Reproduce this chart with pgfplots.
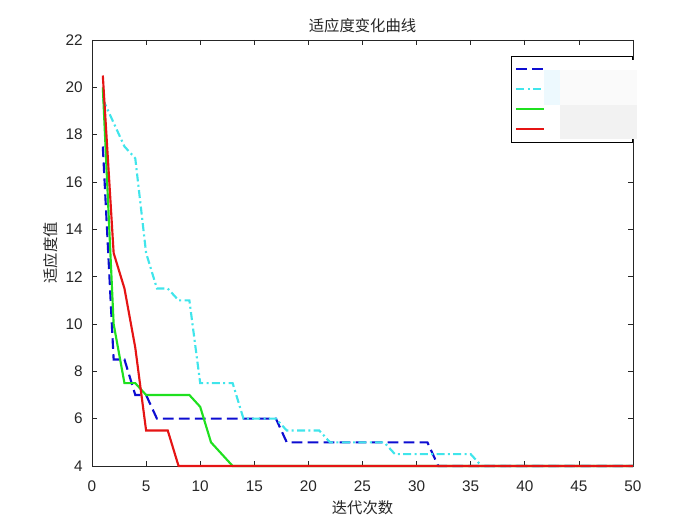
\documentclass[border=0pt]{standalone}
\usepackage{pgfplots}
\pgfplotsset{compat=1.18}
\usepackage{fontspec}
\setmainfont{Liberation Sans}
\newfontfamily\cjk{Noto Sans CJK SC}
\definecolor{mblue}{rgb}{0.05,0.05,0.82}
\definecolor{mcyan}{rgb}{0.25,0.9,0.92}
\definecolor{mgreen}{rgb}{0.12,0.88,0.12}
\definecolor{mred}{rgb}{0.9,0.08,0.08}
\definecolor{axgray}{rgb}{0.15,0.15,0.15}
\begin{document}
\begin{tikzpicture}
\useasboundingbox (0,0) rectangle (525pt,393.75pt);
\begin{axis}[
  at={(69pt,44.25pt)}, anchor=south west,
  scale only axis, width=405.75pt, height=319.5pt,
  xmin=0, xmax=50, ymin=4, ymax=22,
  clip=false,
  xtick={0,5,...,50}, ytick={4,6,...,22},
  tick align=inside, xtick pos=both, ytick pos=both,
  major tick length=3.75pt,
  axis line style={axgray, line width=0.6pt},
  every tick/.style={axgray, line width=0.6pt},
  /pgf/number format/assume math mode=true,
  ticklabel style={font=\fontsize{11.5}{13}\selectfont, text=axgray},
  xticklabel style={inner sep=0pt, anchor=north, yshift=-11pt},
  yticklabel style={inner sep=0pt, anchor=east, xshift=-6.75pt},
  title={\cjk 适应度变化曲线},
  title style={font=\fontsize{11.5}{13}\selectfont, text=axgray, at={(0.5,1)}, anchor=south, inner sep=0pt, yshift=-0.5pt},
  xlabel={\cjk 迭代次数},
  xlabel style={font=\fontsize{11.5}{13}\selectfont, text=axgray, at={(axis description cs:0.5,0)}, anchor=north, inner sep=0pt, yshift=-26pt},
  ylabel={\cjk 适应度值},
  ylabel style={font=\fontsize{11.5}{13}\selectfont, text=axgray, at={(axis description cs:-0.063,0.5)}, anchor=south, inner sep=0pt, rotate=0},
  legend image code/.code={\draw[#1] (0pt,0pt) -- (21pt,0pt);},
  legend style={at={(axis description cs:0.7745,0.9624)}, anchor=north west,
     draw=black, line width=0.6pt, inner xsep=3pt, inner ysep=2.25pt,
     nodes={inner sep=0pt, minimum height=15pt, anchor=west}, row sep=0pt,
     fill=none},
  legend cell align=left,
]
\addplot[mblue, line width=1.6pt, dash pattern=on 8pt off 4pt] coordinates {
 (1,17.5)(2,8.5)(3,8.5)(4,7)(5,7)(6,6)(17,6)(18,5)(31,5)(32,4)(50,4)};
\addlegendentry{\hspace*{62pt}}
\addplot[mcyan, line width=1.6pt, dash pattern=on 6pt off 2.5pt on 1.5pt off 2.5pt] coordinates {
 (1,19.5)(2,18.5)(3,17.5)(4,17)(5,13)(6,11.5)(7,11.5)(8,11)(9,11)(10,7.5)(13,7.5)(14,6)(17,6)(18,5.5)(21,5.5)(22,5)(27,5)(28,4.5)(35,4.5)(36,4)(50,4)};
\addlegendentry{\hspace*{62pt}}
\addplot[mgreen, line width=1.6pt] coordinates {
 (1,20)(2,10)(3,7.5)(4,7.5)(5,7)(9,7)(10,6.5)(11,5)(12,4.5)(13,4)(50,4)};
\addlegendentry{\hspace*{62pt}}
\addplot[mred, line width=1.6pt] coordinates {
 (1,20.5)(2,13)(3,11.5)(4,9)(5,5.5)(7,5.5)(8,4)(50,4)};
\addlegendentry{\hspace*{62pt}}
\end{axis}
% blurred legend-text patches (decoration only)
\fill[white] (420pt,348.75pt) rectangle (477.75pt,341.25pt);
\fill[cyan!7] (408pt,341.25pt) rectangle (420pt,315pt);
\fill[gray!4] (420pt,341.25pt) rectangle (477.75pt,315pt);
\fill[gray!10] (420pt,315pt) rectangle (477.75pt,289.5pt);
\end{tikzpicture}
\end{document}
